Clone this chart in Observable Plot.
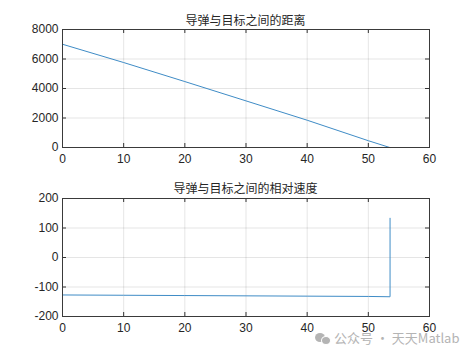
<!DOCTYPE html>
<html>
<head>
<meta charset="utf-8">
<script src="https://cdn.jsdelivr.net/npm/d3@7"></script>
<script src="https://cdn.jsdelivr.net/npm/@observablehq/plot@0.6"></script>
<style>
  html, body { margin: 0; padding: 0; background: #fff; }
  #wrap { position: relative; width: 474px; height: 355px; background: #fff; overflow: hidden; }
  .ttl { position: absolute; left: 62px; width: 367px; text-align: center; font-family: "Noto Sans CJK SC", sans-serif; font-size: 12px; color: #262626; line-height: 14px; }
  .pl { position: absolute; left: 0; }
  #wm { position: absolute; left: 315px; top: 328px; font-family: "Noto Sans CJK SC", "Liberation Sans", sans-serif; font-size: 13px; color: #b4b4b4; white-space: nowrap; }
  #wm .ic { display: inline-block; width: 14px; height: 11px; position: relative; vertical-align: -1px; margin-right: 5px; }
  #wm .ic i { position: absolute; border-radius: 50%; background: #b4b4b4; }
</style>
</head>
<body>
<div id="wrap"></div>
<script>
// ---- data ----
const titles = ["导弹与目标之间的距离", "导弹与目标之间的相对速度"];
const xTicks = [0, 10, 20, 30, 40, 50, 60];
const distTicks = [0, 2000, 4000, 6000, 8000];
const velTicks = [-200, -100, 0, 100, 200];
const distTime = [0, 10, 20, 30, 40, 50, 53.5];
const distValue = [7000, 5760, 4470, 3160, 1850, 460, 0];
const velTime = [0, 10, 20, 30, 40, 50, 53.4, 53.55, 53.55];
const velValue = [-127, -128, -129, -130, -131, -132, -133, -133, 133];
const watermark = "公众号 · 天天Matlab";

const lineColor = "#3f8cc6";
const W = 474;
const mL = 62, mR = 45;

function panel(times, values, yTicks, yDomain, height, mTop, mBottom) {
  const data = times.map((t, i) => ({t, v: values[i]}));
  const fW = W - mL - mR;
  const fH = height - mTop - mBottom;
  const tickColor = "#333";
  return Plot.plot({
    width: W,
    height,
    marginLeft: mL,
    marginRight: mR,
    marginTop: mTop,
    marginBottom: mBottom,
    style: {fontFamily: "'Liberation Sans', Arial, sans-serif", fontSize: "12px", color: "#262626", background: "transparent"},
    x: {domain: [0, 60]},
    y: {domain: yDomain},
    marks: [
      Plot.gridX(xTicks, {stroke: "#000", strokeOpacity: 0.1}),
      Plot.gridY(yTicks, {stroke: "#000", strokeOpacity: 0.1}),
      Plot.ruleX(xTicks, {x: d => d, insetTop: fH - 4, stroke: tickColor}),
      Plot.ruleX(xTicks, {x: d => d, insetBottom: fH - 4, stroke: tickColor}),
      Plot.ruleY(yTicks, {y: d => d, insetRight: fW - 4, stroke: tickColor}),
      Plot.ruleY(yTicks, {y: d => d, insetLeft: fW - 4, stroke: tickColor}),
      Plot.line(data, {x: "t", y: "v", stroke: lineColor, strokeWidth: 1}),
      Plot.frame({stroke: "#3a3a3a"}),
      Plot.axisX(xTicks, {tickSize: 0, tickPadding: 7, label: null, fontSize: 12, tickFormat: d => String(d)}),
      Plot.axisY(yTicks, {tickSize: 0, tickPadding: 4, label: null, fontSize: 12, tickFormat: d => String(d).replace("−", "-")})
    ]
  });
}

const wrap = document.getElementById("wrap");

const t1 = document.createElement("div");
t1.className = "ttl"; t1.style.top = "13px"; t1.textContent = titles[0];
wrap.appendChild(t1);

const p1 = panel(distTime, distValue, distTicks, [0, 8000], 175, 29, 28);
p1.classList.add("pl"); p1.style.position = "absolute"; p1.style.top = "0px";
wrap.appendChild(p1);

const t2 = document.createElement("div");
t2.className = "ttl"; t2.style.top = "181px"; t2.textContent = titles[1];
wrap.appendChild(t2);

const p2 = panel(velTime, velValue, velTicks, [-200, 200], 185, 28, 39);
p2.classList.add("pl"); p2.style.position = "absolute"; p2.style.top = "170px";
wrap.appendChild(p2);

const wm = document.createElement("div");
wm.id = "wm";
wm.innerHTML = '<span class="ic"><i style="left:0;top:0;width:10px;height:9px"></i><i style="left:6px;top:3px;width:8px;height:7px;border:1px solid #fff"></i></span>';
wm.appendChild(document.createTextNode(watermark));
wrap.appendChild(wm);
</script>
</body>
</html>
